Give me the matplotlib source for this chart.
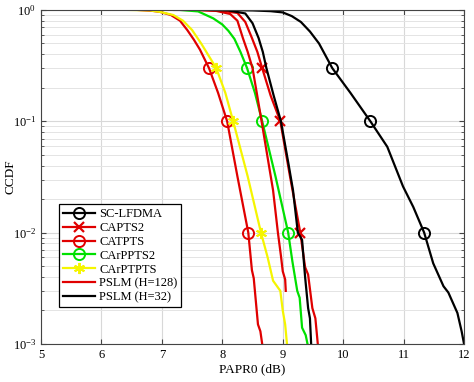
import matplotlib.pyplot as plt
import numpy as np

plt.rcParams['font.family'] = ['Liberation Serif', 'DejaVu Serif']
plt.rcParams['mathtext.fontset'] = 'stix'

# CCDF curves: (PAPR0 in dB, CCDF)
sc_x = [7.2, 8.0, 8.5, 8.8, 9.0, 9.15, 9.3, 9.45, 9.6, 9.82, 10.12, 10.45, 10.73, 10.99,
        11.16, 11.34, 11.49, 11.66, 11.74, 11.89, 11.96, 12.0]
sc_y = [1.0, 0.998, 0.99, 0.975, 0.95, 0.88, 0.78, 0.64, 0.5, 0.3, 0.18, 0.1, 0.059, 0.026,
        0.017, 0.01, 0.0053, 0.0033, 0.0029, 0.0019, 0.0013, 0.001]

capts2_x = [7.6, 8.0, 8.25, 8.38, 8.49, 8.58, 8.66, 8.8, 8.96, 9.12, 9.29, 9.37, 9.42, 9.49, 9.54, 9.58]
capts2_y = [1.0, 0.98, 0.94, 0.78, 0.56, 0.42, 0.3, 0.17, 0.1, 0.032, 0.01, 0.0049, 0.0042, 0.0021, 0.0017, 0.001]

catpts_x = [6.6, 6.85, 6.97, 7.15, 7.3, 7.42, 7.53, 7.63, 7.78, 7.93, 8.08, 8.25, 8.43, 8.49, 8.52, 8.59, 8.63, 8.66]
catpts_y = [1.0, 0.98, 0.96, 0.9, 0.8, 0.66, 0.54, 0.44, 0.3, 0.18, 0.1, 0.032, 0.01, 0.0046, 0.0039, 0.0015, 0.0013, 0.001]

carppts2_x = [7.3, 7.6, 7.85, 8.0, 8.1, 8.2, 8.3, 8.41, 8.54, 8.66, 8.88, 9.09, 9.16, 9.24, 9.28, 9.32, 9.38, 9.41]
carppts2_y = [1.0, 0.97, 0.84, 0.74, 0.65, 0.55, 0.42, 0.3, 0.18, 0.1, 0.032, 0.01, 0.0055, 0.003, 0.0026, 0.0014, 0.0012, 0.001]

carptpts_x = [6.45, 6.8, 6.97, 7.19, 7.35, 7.5, 7.65, 7.9, 8.05, 8.18, 8.42, 8.64, 8.75, 8.84, 8.96, 9.0, 9.04, 9.07]
carptpts_y = [1.0, 0.99, 0.96, 0.9, 0.8, 0.66, 0.5, 0.3, 0.18, 0.1, 0.032, 0.01, 0.006, 0.0037, 0.003, 0.002, 0.0015, 0.001]

pslm128_x = [7.6, 7.9, 8.13, 8.25, 8.34, 8.42, 8.5, 8.57, 8.65, 8.84, 8.92, 8.97, 9.0, 9.04, 9.05]
pslm128_y = [1.0, 0.98, 0.92, 0.8, 0.56, 0.42, 0.3, 0.18, 0.1, 0.024, 0.01, 0.0062, 0.0045, 0.0038, 0.003]

pslm32_x = [7.8, 8.1, 8.38, 8.5, 8.6, 8.67, 8.73, 8.85, 8.97, 9.1, 9.17, 9.25, 9.32, 9.37, 9.42, 9.45, 9.47]
pslm32_y = [1.0, 0.99, 0.93, 0.76, 0.56, 0.42, 0.3, 0.17, 0.1, 0.04, 0.024, 0.01, 0.0086, 0.004, 0.0021, 0.0017, 0.001]

marked = (0.3, 0.1, 0.01)


def marks(y):
    return [i for i, v in enumerate(y) if v in marked]


red = '#e00000'
green = '#00e000'
yellow = '#f5f500'

fig = plt.figure(figsize=(4.74, 3.82), dpi=100)
ax = fig.add_axes([0.0865, 0.0995, 0.8925, 0.8745])

lw = 1.6
ax.semilogy(sc_x, sc_y, color='black', lw=lw, marker='o', ms=8, mfc='none', mew=1.4,
            markevery=marks(sc_y), label='SC-LFDMA')
ax.semilogy(capts2_x, capts2_y, color=red, lw=lw, marker='x', ms=7, mew=1.6,
            markevery=marks(capts2_y), label='CAPTS2')
ax.semilogy(catpts_x, catpts_y, color=red, lw=lw, marker='o', ms=8, mfc='none', mew=1.4,
            markevery=marks(catpts_y), label='CATPTS')
ax.semilogy(carppts2_x, carppts2_y, color=green, lw=lw, marker='o', ms=8, mfc='none', mew=1.4,
            markevery=marks(carppts2_y), label='CArPPTS2')
ax.semilogy(carptpts_x, carptpts_y, color=yellow, lw=lw, marker=(6, 2, 0), ms=8, mew=1.4,
            markevery=marks(carptpts_y), label='CArPTPTS')
ax.semilogy(pslm128_x, pslm128_y, color=red, lw=lw, label='PSLM (H=128)')
ax.semilogy(pslm32_x, pslm32_y, color='black', lw=lw, label='PSLM (H=32)')

ax.set_xlim(5, 12)
ax.set_ylim(1e-3, 1)
ax.set_xticks(range(5, 13))
ax.set_yticks([1e-3, 1e-2, 1e-1, 1e0])
ax.grid(True, which='major', color='#d8d8d8', lw=0.8)
ax.grid(True, which='minor', axis='y', color='#e4e4e4', lw=0.7)
ax.tick_params(which='both', direction='in', top=True, right=True, labelsize=9, color='#444444')
for s in ax.spines.values():
    s.set_color('#444444')

ax.set_xlabel('PAPR0 (dB)', fontsize=9.5, labelpad=2)
ax.set_ylabel('CCDF', fontsize=9.5, va='center')
ax.yaxis.set_label_coords(-0.072, 0.5)

leg = ax.legend(loc='lower left', bbox_to_anchor=(0.043, 0.11), fontsize=9,
                fancybox=False, framealpha=1, edgecolor='black', handlelength=2.6,
                borderpad=0.3, labelspacing=0.15, handletextpad=0.3, borderaxespad=0)
leg.get_frame().set_linewidth(0.9)

fig.savefig('out.png', dpi=100)
